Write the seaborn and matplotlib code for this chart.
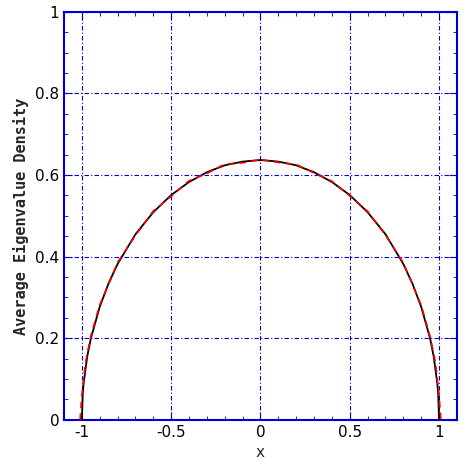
import matplotlib
matplotlib.use("Agg")
import matplotlib.pyplot as plt
import seaborn as sns
import pandas as pd

x_theory = [-1.0, -0.995, -0.99, -0.97, -0.95, -0.9, -0.85, -0.8, -0.7, -0.6, -0.5, -0.4, -0.3, -0.2, -0.1, 0.0,
            0.1, 0.2, 0.3, 0.4, 0.5, 0.6, 0.7, 0.8, 0.85, 0.9, 0.95, 0.97, 0.99, 0.995, 1.0]
y_theory = [0.0, 0.064, 0.090, 0.155, 0.199, 0.277, 0.335, 0.382, 0.455, 0.509, 0.551, 0.583, 0.607, 0.624, 0.633, 0.637,
            0.633, 0.624, 0.607, 0.583, 0.551, 0.509, 0.455, 0.382, 0.335, 0.277, 0.199, 0.155, 0.090, 0.064, 0.0]
x_sim = [-1.01, -1.0, -0.98, -0.95, -0.9, -0.85, -0.8, -0.7, -0.6, -0.5, -0.4, -0.3, -0.2, -0.1, 0.0,
         0.1, 0.2, 0.3, 0.4, 0.5, 0.6, 0.7, 0.8, 0.85, 0.9, 0.95, 0.98, 1.0, 1.01]
y_sim = [0.0, 0.06, 0.14, 0.205, 0.282, 0.332, 0.386, 0.452, 0.512, 0.548, 0.586, 0.604, 0.627, 0.630, 0.638,
         0.631, 0.626, 0.605, 0.585, 0.549, 0.511, 0.453, 0.385, 0.333, 0.281, 0.204, 0.14, 0.06, 0.0]

sns.set_style("white")
fig = plt.figure(figsize=(4.74, 4.75), dpi=100)
ax = fig.add_axes([0.135, 0.116, 0.829, 0.859])
blue = "#0000cc"
ax.grid(True, color=blue, linestyle=(0, (4, 2, 1, 2)), linewidth=0.8)
sns.lineplot(x=x_theory, y=y_theory, ax=ax, color="black", linewidth=1.3, sort=False, zorder=3)
sns.lineplot(x=x_sim, y=y_sim, ax=ax, color="red", linewidth=1.2, linestyle=(0, (4, 3)), sort=False, zorder=4)
ax.set_xlim(-1.1, 1.1)
ax.set_ylim(0, 1)
ax.set_xticks([-1, -0.5, 0, 0.5, 1])
ax.set_xticklabels(["-1", "-0.5", "0", "0.5", "1"])
ax.set_yticks([0, 0.2, 0.4, 0.6, 0.8, 1])
ax.set_yticklabels(["0", "0.2", "0.4", "0.6", "0.8", "1"])
for s in ax.spines.values():
    s.set_color(blue); s.set_linewidth(1.5)
ax.tick_params(direction="in", colors=blue, labelcolor="black", labelsize=11, length=6,
               top=True, right=True, left=True, bottom=True)
ax.minorticks_on()
ax.tick_params(which="minor", direction="in", colors=blue, length=3, top=True, right=True, left=True, bottom=True)
ax.set_xlabel("x", fontsize=11)
ax.set_ylabel("Average Eigenvalue Density", fontsize=11, family="DejaVu Sans Mono", fontweight="bold")
fig.savefig("out.png", dpi=100)
